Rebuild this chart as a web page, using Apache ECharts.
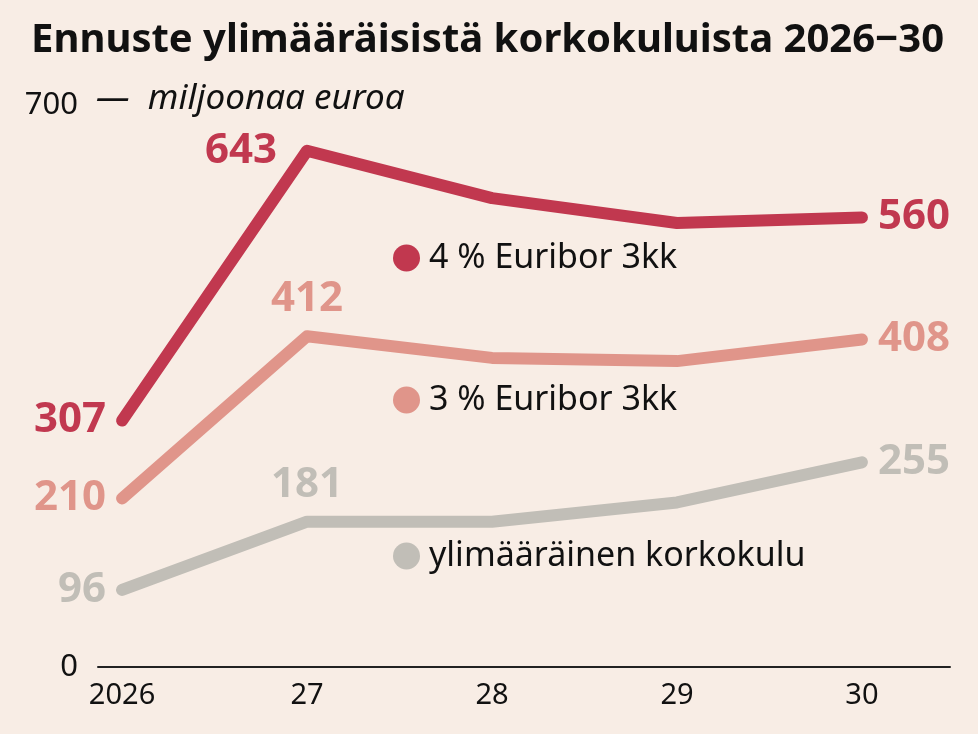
<!DOCTYPE html>
<html>
<head>
<meta charset="utf-8">
<script src="https://cdn.jsdelivr.net/npm/echarts@6/dist/echarts.min.js"></script>
<style>
  html, body { margin: 0; padding: 0; background: #f8ede5; }
  #chart { width: 978px; height: 734px; }
</style>
</head>
<body>
<div id="chart"></div>
<script>
const years = [2026, 2027, 2028, 2029, 2030]
const yearLabels = ['2026', '27', '28', '29', '30']
const euribor4 = [307, 643, 584, 553, 560]
const euribor3 = [210, 412, 385, 381, 408]
const baseline = [96, 181, 181, 205, 255]
const seriesNames = ['4 % Euribor 3kk', '3 % Euribor 3kk', 'ylimääräinen korkokulu']
const yTicks = [0, 700]

const colors = ['#c1384f', '#e0958a', '#c1beb7']
const font = 'Noto Sans'

// where each point's value label goes (null = no label)
const labelPos = [
  ['left', 'left', null, null, 'right'],
  ['left', 'top', null, null, 'right'],
  ['left', 'top', null, null, 'right']
]

const chart = echarts.init(document.getElementById('chart'))

const makeSeries = (vals, i) => ({
  name: seriesNames[i],
  type: 'line',
  symbol: 'circle',
  symbolSize: 0,
  showSymbol: true,
  color: colors[i],
  lineStyle: { width: 12, color: colors[i], join: 'round', cap: 'round' },
  data: vals.map((v, j) => ({
    value: [years[j], v],
    label: {
      show: labelPos[i][j] !== null,
      position: labelPos[i][j] || 'top',
      distance: (i === 0 && j === 1) ? 30 : 16,
      formatter: p => p.value[1],
      color: colors[i],
      fontFamily: font,
      fontWeight: 'bold',
      fontSize: 42
    }
  }))
})

const legendTops = [236, 378, 534]

chart.setOption({
  backgroundColor: '#f8ede5',
  animation: false,
  title: {
    text: 'Ennuste ylimääräisistä korkokuluista 2026−30',
    left: 26,
    top: 16,
    textStyle: { fontFamily: font, fontWeight: 'bold', fontSize: 40, color: '#111' }
  },
  legend: seriesNames.map((n, i) => ({
    data: [n],
    left: 388,
    top: legendTops[i],
    icon: 'circle',
    itemWidth: 27,
    itemHeight: 27,
    selectedMode: false,
    textStyle: { fontFamily: font, fontSize: 34, color: '#111', padding: [0, 0, 0, 4] }
  })),
  graphic: [{
    type: 'text',
    left: 96,
    top: 82,
    style: {
      text: '—  miljoonaa euroa',
      font: 'italic 35px "Noto Sans"',
      fill: '#111'
    }
  }],
  grid: { left: 98, right: 28, top: 105, bottom: 67 },
  xAxis: {
    type: 'value',
    min: 2025.87,
    max: 2030.476,
    splitLine: { show: false },
    axisLine: { show: true, lineStyle: { color: '#222', width: 2 } },
    axisTick: { show: false },
    axisLabel: {
      customValues: years,
      formatter: v => yearLabels[years.indexOf(Math.round(v))] || '',
      fontFamily: font,
      fontSize: 29,
      color: '#111',
      margin: 14
    }
  },
  yAxis: {
    type: 'value',
    min: 0,
    max: 700,
    interval: 700,
    splitLine: { show: false },
    axisLine: { show: false },
    axisTick: { show: false },
    axisLabel: {
      customValues: yTicks,
      fontFamily: font,
      fontSize: 31,
      color: '#111',
      margin: 20
    }
  },
  series: [euribor4, euribor3, baseline].map(makeSeries)
})
</script>
</body>
</html>
